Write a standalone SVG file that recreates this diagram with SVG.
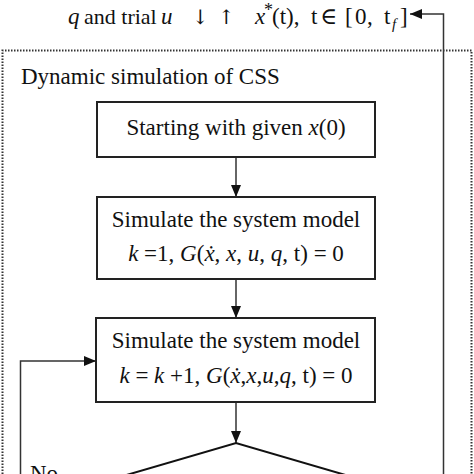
<svg xmlns="http://www.w3.org/2000/svg" width="474" height="474" viewBox="0 0 474 474">
<style>
text{font-family:'Liberation Serif','Times New Roman','DejaVu Serif',serif;font-size:23px;fill:#111}
.i{font-style:italic}
.box{fill:#fff;stroke:#222;stroke-width:2}
.ln{fill:none;stroke:#333;stroke-width:1.5}
.frame{fill:none;stroke:#333;stroke-width:2;stroke-dasharray:1.5 1.5}
.sym{font-family:'DejaVu Serif',serif;font-size:20px}
</style>
<defs>
<marker id="ah" viewBox="0 0 12 10" refX="12" refY="5" markerWidth="12" markerHeight="10" markerUnits="userSpaceOnUse" orient="auto">
<path d="M0,0 L12,5 L0,10 Z" fill="#111"/>
</marker>
</defs>
<rect width="474" height="474" fill="#fff"/>

<g id="header" font-family="Liberation Serif, serif">
<text y="24"><tspan x="68" class="i">q</tspan><tspan x="84" font-size="22">and trial</tspan><tspan x="161" class="i">u</tspan><tspan x="192" class="sym">↓</tspan><tspan x="218" class="sym">↑</tspan><tspan x="255" class="i">x</tspan><tspan x="264" y="16" font-size="18">*</tspan><tspan x="272" y="24">(t),</tspan><tspan x="311">t</tspan><tspan x="320">∈</tspan><tspan x="345">[</tspan><tspan x="355">0</tspan><tspan x="367">,</tspan><tspan x="384">t</tspan><tspan x="392" y="29" class="i" font-size="15">f</tspan><tspan x="400" y="24">]</tspan></text>
</g>

<g id="frame" font-family="Liberation Serif, serif">
<path class="frame" d="M2.5,480 V50.5 H471.5 V480"/>
<text x="21" y="84">Dynamic simulation of CSS</text>
</g>

<g id="connectors">
<path class="ln" d="M443.5,480 V14 H410" marker-end="url(#ah)"/>
<path class="ln" d="M236,157 V197" marker-end="url(#ah)"/>
<path class="ln" d="M236,279 V318" marker-end="url(#ah)"/>
<path class="ln" d="M236,402 V443" marker-end="url(#ah)"/>
<path class="ln" d="M20.5,480 V361 H96" marker-end="url(#ah)"/>
</g>

<g id="start" font-family="Liberation Serif, serif">
<rect class="box" x="97" y="102" width="278" height="55"/>
<text x="236" y="135" text-anchor="middle">Starting with given <tspan class="i">x</tspan>(0)</text>
</g>

<g id="sim1" font-family="Liberation Serif, serif">
<rect class="box" x="97" y="197" width="278" height="82"/>
<text x="236" y="227" text-anchor="middle">Simulate the system model</text>
<text x="236" y="261" text-anchor="middle"><tspan class="i">k</tspan> =1, <tspan class="i">G</tspan>(<tspan class="i">ẋ</tspan>, <tspan class="i">x</tspan>, <tspan class="i">u</tspan>, <tspan class="i">q</tspan>, t) = 0</text>
</g>

<g id="sim2" font-family="Liberation Serif, serif">
<rect class="box" x="96" y="318" width="279" height="84"/>
<text x="236" y="348" text-anchor="middle">Simulate the system model</text>
<text x="236" y="383" text-anchor="middle"><tspan class="i">k</tspan> = <tspan class="i">k</tspan> +1, <tspan class="i">G</tspan>(<tspan class="i">ẋ</tspan>,<tspan class="i">x</tspan>,<tspan class="i">u</tspan>,<tspan class="i">q</tspan>, t) = 0</text>
</g>

<g id="decision" font-family="Liberation Serif, serif">
<path fill="none" stroke="#111" stroke-width="2" d="M82,488 L236,443 L390,488"/>
<text x="30" y="481">No</text>
</g>
</svg>
